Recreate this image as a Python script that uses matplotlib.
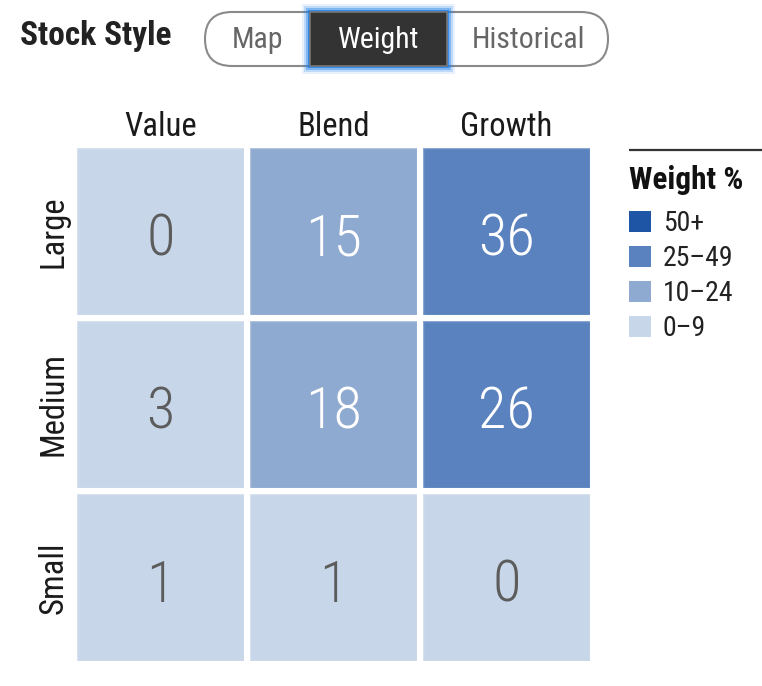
import matplotlib
matplotlib.use("Agg")
import matplotlib.pyplot as plt
import matplotlib.font_manager as fm
from matplotlib.patches import Rectangle, FancyBboxPatch, Patch

# ---------------- data ----------------
row_labels = ["Large", "Medium", "Small"]
col_labels = ["Value", "Blend", "Growth"]
weights = [
    [0, 15, 36],
    [3, 18, 26],
    [1, 1, 0],
]
legend_title = "Weight %"
legend_labels = ["50+", "25–49", "10–24", "0–9"]
legend_mins = [50, 25, 10, 0]
legend_colors = ["#1f55a5", "#5a82be", "#8faad0", "#c7d6e9"]
title = "Stock Style"
tabs = ["Map", "Weight", "Historical"]
active_tab = "Weight"

# ---------------- font ----------------
def pick_font():
    prefer = ["Roboto Condensed", "Liberation Sans Narrow", "DejaVu Sans Condensed",
              "Open Sans Condensed", "Noto Sans Condensed", "Arial Narrow"]
    entries = fm.fontManager.ttflist
    names = {f.name for f in entries}
    for p in prefer:
        if p in names:
            return dict(family=p)
    for f in entries:
        st = str(f.stretch)
        if st in ("condensed", "semi-condensed", "extra-condensed"):
            return dict(family=f.name, stretch=st)
    return dict(family="Roboto")

FONT = pick_font()

def fkw(**kw):
    d = dict(FONT)
    d.update(kw)
    return d

W, H = 762, 686
fig = plt.figure(figsize=(W / 100, H / 100), dpi=100)
fig.patch.set_facecolor("white")

# overlay axes in pixel coordinates for header decorations
ov = fig.add_axes([0, 0, 1, 1])
ov.set_xlim(0, W)
ov.set_ylim(H, 0)
ov.axis("off")

# title
ov.text(20, 36, title, ha="left", va="center", fontsize=24, fontweight="bold",
        color="#222222", **FONT)

# tab pill
pill_l, pill_r, pill_t, pill_b = 205, 608, 12, 66
ov.add_patch(FancyBboxPatch((pill_l, pill_t), pill_r - pill_l, pill_b - pill_t,
                            boxstyle="round,pad=0,rounding_size=27",
                            facecolor="white", edgecolor="#8a8a8a", linewidth=1.5, zorder=2))
seg_l, seg_r = 310, 447
for pad, a in [(8, 0.10), (6, 0.2), (4, 0.4), (2, 0.75)]:
    ov.add_patch(Rectangle((seg_l - pad, pill_t - pad), seg_r - seg_l + 2 * pad,
                           pill_b - pill_t + 2 * pad, facecolor="#1f7fe8", alpha=a,
                           edgecolor="none", zorder=3))
ov.add_patch(Rectangle((seg_l, pill_t), seg_r - seg_l, pill_b - pill_t,
                       facecolor="#333333", edgecolor="#777777", linewidth=1.2, zorder=4))
tab_x = [258, 379, 528]
for t, x in zip(tabs, tab_x):
    ov.text(x, 40, t, ha="center", va="center", fontsize=21.5,
            color="white" if t == active_tab else "#666666", zorder=5, **FONT)

# ---------------- heat map ----------------
def color_for(v):
    for m, c in zip(legend_mins, legend_colors):
        if v >= m:
            return c
    return legend_colors[-1]

ax_l, ax_r, ax_t, ax_b = 74, 593, 145, 664
ax = fig.add_axes([ax_l / W, 1 - ax_b / H, (ax_r - ax_l) / W, (ax_b - ax_t) / H])
nr, nc = len(row_labels), len(col_labels)
ax.set_xlim(0, nc)
ax.set_ylim(nr, 0)
g = 3.2 / 173
for i in range(nr):
    for j in range(nc):
        v = weights[i][j]
        c = color_for(v)
        ax.add_patch(Rectangle((j + g, i + g), 1 - 2 * g, 1 - 2 * g, facecolor=c,
                               edgecolor="none"))
        ax.add_patch(Rectangle((j + g, i + g), 1 - 2 * g, 1 - 2 * g, facecolor="none",
                               edgecolor=(1, 1, 1, 0.3), linewidth=1.0))
        ax.text(j + 0.5, i + 0.552, str(v), ha="center", va="center", fontsize=42,
                color="#5c5c5c" if c == legend_colors[-1] else "white",
                fontweight="light", **FONT)

ax.xaxis.tick_top()
ax.set_xticks([j + 0.5 for j in range(nc)])
ax.set_xticklabels(col_labels, **fkw(fontsize=23.5, color="#1a1a1a"))
ax.set_yticks([i + 0.5 for i in range(nr)])
ax.set_yticklabels(row_labels, rotation=90, va="center", **fkw(fontsize=23.5, color="#1a1a1a"))
ax.tick_params(axis="x", length=0, pad=1.5)
ax.tick_params(axis="y", length=0, pad=3)
for s in ax.spines.values():
    s.set_visible(False)
ax.set_facecolor("white")

# ---------------- legend ----------------
ov.plot([629, 762], [150, 150], color="#333333", linewidth=1.6, solid_capstyle="butt")
ov.text(629, 180, legend_title, ha="left", va="center", fontsize=22.5,
        fontweight="bold", color="#111111", **FONT)
handles = [Patch(facecolor=c, edgecolor="none") for c in legend_colors]
leg = fig.legend(handles, legend_labels, loc="upper left",
                 bbox_to_anchor=(629 / W, 1 - 210 / H), frameon=False,
                 prop=fm.FontProperties(size=20, **FONT),
                 handlelength=0.8, handleheight=0.8, handletextpad=0.42,
                 labelspacing=0.29, borderaxespad=0, borderpad=0)
for t in leg.get_texts():
    t.set_color("#222222")

fig.savefig("out.png", dpi=100, facecolor="white")
